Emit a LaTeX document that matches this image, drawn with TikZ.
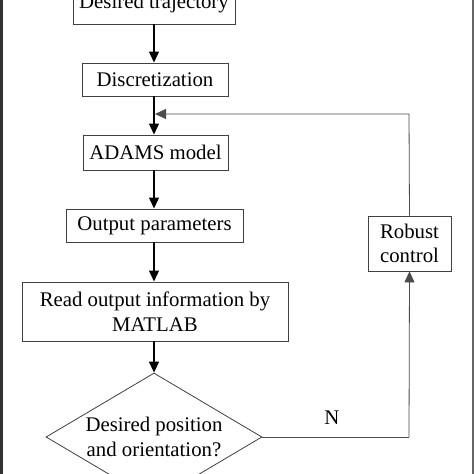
\documentclass[tikz,border=0pt]{standalone}
\usepackage{fontspec}
\setmainfont{Liberation Serif}
\usetikzlibrary{shapes.geometric,arrows.meta}
\begin{document}
\begin{tikzpicture}[x=1pt,y=-1pt,
  txt/.style={align=center,font=\fontsize{20.8}{24.5}\selectfont},
  box/.style={txt,draw=black!75,line width=0.8pt,rectangle,inner sep=0pt},
  flow/.style={line width=1.3pt,-{Triangle[length=11pt,width=10pt]}},
  fb/.style={draw=black!70,line width=0.8pt}]
\useasboundingbox (0,0) rectangle (474,474);
\fill[white] (0,0) rectangle (474,474);
\fill[black!80] (0,0) rectangle (2.5,474);
\fill[black!60] (471.5,0) rectangle (474,474);
\node[box,minimum width=162pt,minimum height=40pt] (dt) at (154,4) {Desired trajectory};
\node[box,minimum width=146pt,minimum height=33pt] (disc) at (155,79.5) {Discretization};
\node[box,minimum width=145pt,minimum height=35pt] (adams) at (155.5,152.5) {ADAMS model};
\node[box,minimum width=177pt,minimum height=33pt] (outp) at (154.5,225.5) {Output parameters};
\node[box,minimum width=266pt,minimum height=59pt] (read) at (155,311.5) {Read output information by\\MATLAB};
\node[draw=black!75,line width=0.8pt,shape=diamond,aspect=1.6875,minimum width=216pt,minimum height=128pt,inner sep=0pt] (dec) at (154,437) {};
\node[txt] (dectext) at (154,437) {Desired position\\and orientation?};
\node[box,minimum width=83pt,minimum height=55pt] (rob) at (409.5,243.5) {Robust\\control};
\node[txt] (n) at (332,418) {N};
\coordinate (c1) at (409,437);
\coordinate (c2) at (409,114);
\coordinate (c3) at (155,114);
\draw[flow] (154,24) -- (154,62.5);
\draw[flow] (154,96) -- (154,134.5);
\draw[flow] (154,170) -- (154,208.5);
\draw[flow] (154,242) -- (154,281.5);
\draw[flow] (154,341) -- (dec.north);
\draw[fb] (dec.east) -- (c1);
\draw[fb,-{Triangle[length=11pt,width=10pt]}] (c1) -- (rob.south);
\draw[fb,-{Triangle[length=11pt,width=10pt]}] (rob.north) -- (c2) -- (c3);
\end{tikzpicture}
\end{document}
